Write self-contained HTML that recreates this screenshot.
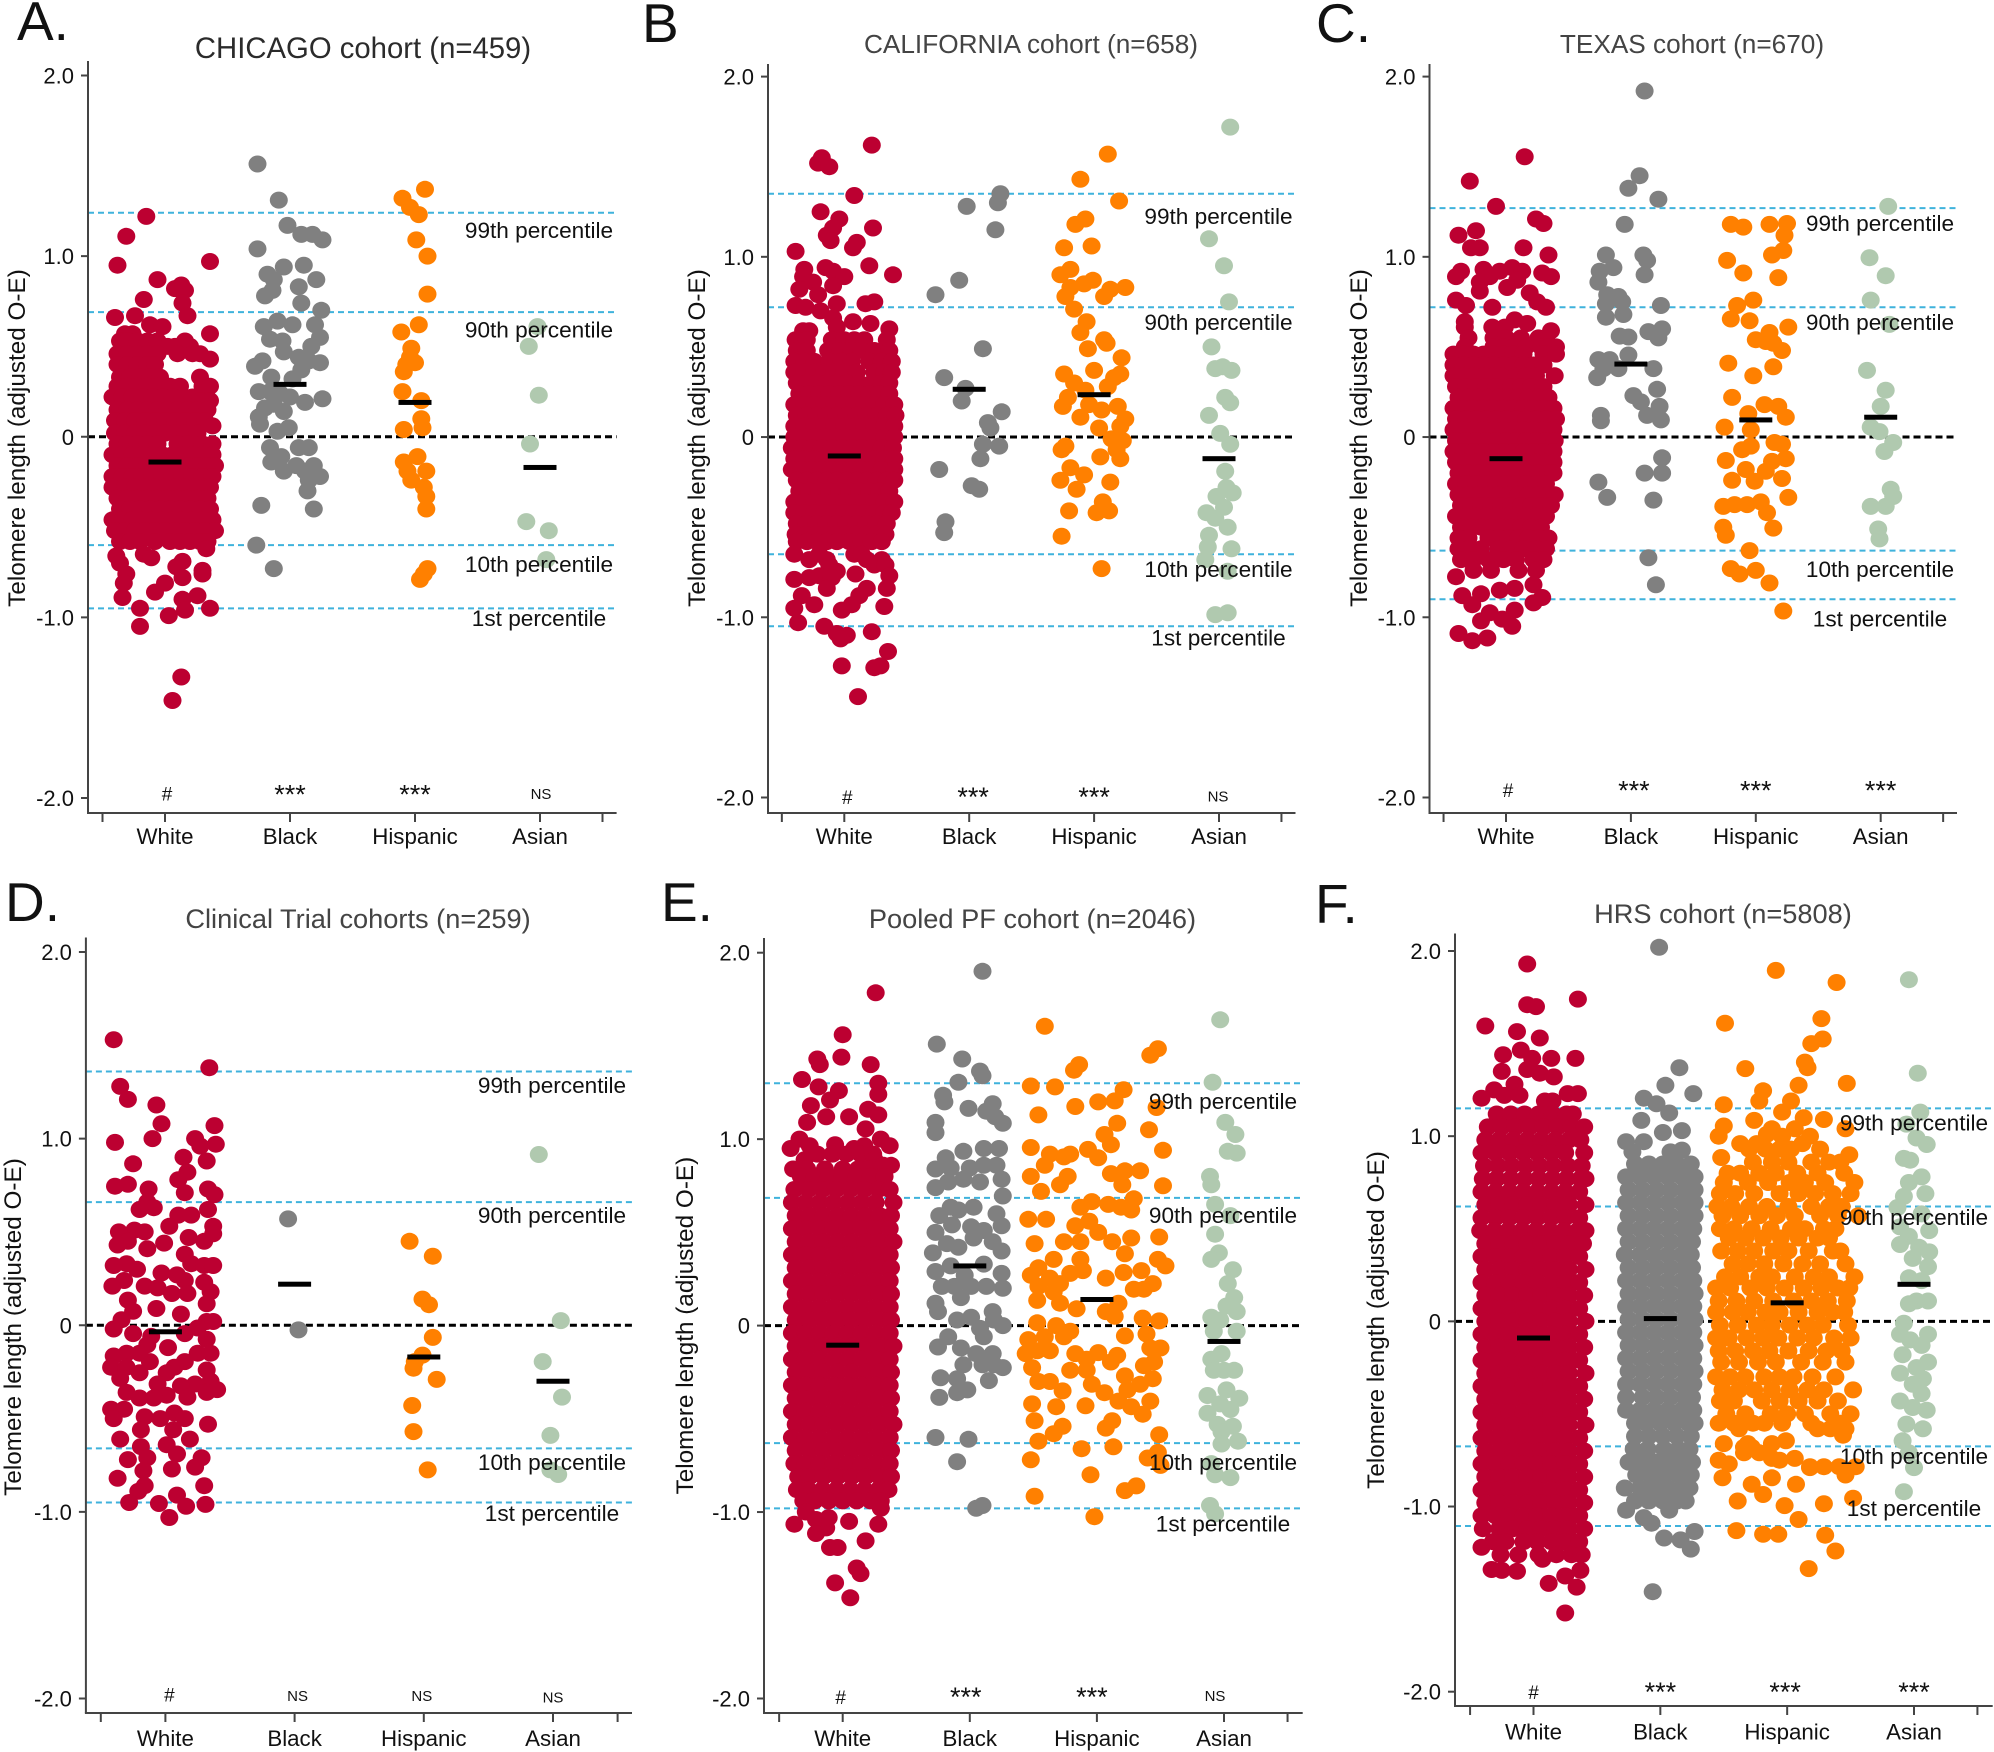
<!DOCTYPE html>
<html lang="en">
<head>
<meta charset="utf-8">
<title>Telomere length by race and cohort</title>
<style>
html,body{margin:0;padding:0;background:#fff}
svg{display:block;font-family:"Liberation Sans",Arial,sans-serif}
</style>
</head>
<body>
<svg id="figure" xmlns="http://www.w3.org/2000/svg" width="1994" height="1752" viewBox="0 0 1994 1752"></svg>
<script>
// Shared chart vocabulary
const categories = ['White','Black','Hispanic','Asian'];
const categoryColors = ['#bc0031','#808080','#ff8000','#b0c9af'];
const yTickValues = [2,1,0,-1,-2];
const yTickLabels = ['2.0','1.0','0','-1.0','-2.0'];
const xTickPositions = [-0.5,0,1,2,3,3.5];
const percentileNames = ['99th percentile','90th percentile','10th percentile','1st percentile'];

// Point rows: [value, jitter, jitter, ...]; jitter is a percentage of the category spacing.
const aWhite=[[1.22,-15],[1.11,-31],[.97,36],[.95,-38],[.87,-6],[.84,13],[.82,8],[.81,16],[.76,-17],[.74,14],[.67,18,-24],[.66,-40],[.62,-12],[.61,-2],[.57,36,-32,-26],[.53,-36,-30,-22,-14,-6,16],[.5,2,8,20],[.46,-38,-30,-22,-14,-6,10,22,28],[.43,36],[.4,-38,-30,-22,-14,-8],[.33,-36,-28,-20,-12,-4,28],[.28,-38,-30,-22,-14,-6,4,12,30,36],[.22,-42,-34,-26,-18,-10,-2,6,14,22],[.2,36,28],[.15,-38,-30,-22,-14,-6,2,10,18,26,34],[.09,-40,-32,-24,-16,-8,0,8,16,24,32],[.06,38],[.02,-40,-32,-24,-16,-8,0,8,16,26],[-.04,-38,-30,-22,-14,-6,10,18,30,38],[-.1,-42,-34,-26,-18,-10,-2,6,14,22,30,38],[-.16,-38,-30,-22,-14,-6,2,10,18,26,34,40],[-.22,-42,-34,-26,-18,-10,-2,6,14,22,30,38],[-.28,-42,-32,-24,-16,-8,0,8,16,24,32,36],[-.34,-38,-30,-22,-14,-6,2,10,18,26,34],[-.4,-36,-28,-20,-12,-4,4,12,20,28,36],[-.46,-42,-34,-26,-18,-10,-2,6,14,22,30,38],[-.52,-40,-32,-24,-16,-8,0,8,16,24,32,40],[-.58,-36,-28,-20,-8,4,12,20,28,34],[-.62,33],[-.65,-17],[-.66,-39],[-.67,-11],[-.69,14],[-.7,-36],[-.72,9],[-.74,30],[-.76,-31,30],[-.78,14],[-.81,-33,0],[-.86,-8],[-.88,26],[-.89,-34],[-.9,14],[-.95,-20,36],[-.96,16],[-.99,3],[-1.05,-20],[-1.33,13],[-1.46,6]];
const aBlack=[[1.51,-26],[1.31,-9],[1.17,-2],[1.12,9,18],[1.09,26],[1.04,-26],[.95,11],[.94,-5],[.9,-18],[.87,21,-13],[.83,7],[.81,-14],[.78,-20],[.74,9],[.7,25],[.64,-10],[.62,2,20],[.61,-21],[.55,24],[.54,-16],[.53,-6],[.5,17],[.47,-5],[.44,7],[.42,-22,15],[.41,24],[.39,-28],[.37,9],[.33,-15],[.32,2],[.25,-25,-16],[.24,-8],[.22,0],[.21,26],[.19,12],[.18,-13],[.16,-20],[.14,-5],[.11,-25],[.07,-24],[.05,-1],[.03,-10],[-.06,-16,7,15],[-.11,-7],[-.14,-15],[-.16,5,19],[-.19,-5,12],[-.22,24],[-.24,15],[-.3,14],[-.38,-23],[-.4,19],[-.6,-27],[-.73,-13]];
const aHispanic=[[1.37,8],[1.32,-10],[1.27,-4],[1.23,3],[1.09,1],[1,10],[.79,10],[.62,3],[.58,-11],[.49,-3],[.44,-4],[.41,0],[.4,-7],[.36,-9],[.25,-10],[.2,5],[.1,5],[.05,6],[.04,-9],[-.11,2],[-.14,-9],[-.19,-6,9],[-.24,-3],[-.28,7],[-.33,9],[-.4,9],[-.73,10],[-.76,7],[-.79,4]];
const aAsian=[[.61,-2],[.5,-9],[.23,-1],[-.04,-8],[-.47,-11],[-.52,7],[-.68,5]];

const bWhite=[[1.62,22],[1.55,-18],[1.52,-21],[1.5,-12],[1.34,8],[1.25,-19],[1.21,-4],[1.16,-9,23],[1.12,-14],[1.09,-11],[1.08,10],[1.05,7],[1.03,-39],[.95,20],[.94,-15],[.93,-32],[.92,-9],[.9,39],[.89,0,-33],[.86,-25],[.84,-9],[.82,-36],[.79,-21],[.75,24],[.74,-6,17],[.73,-39],[.72,-31],[.7,-19],[.66,-9],[.64,7],[.63,21],[.61,-6],[.6,36],[.59,-33,-28],[.54,-39,-30,-10,0,8,16,34],[.48,-38,-30,-13,-3,6,14,24,36],[.42,-40,-32,-24,-12,-2,6,20,30,38],[.36,-40,-32,-24,-16,-8,0,10,24,32,38],[.3,-38,-30,-22,-14,-6,2,12,22,30,36],[.24,-36,-28,-20,-12,-4,4,12,20,28,36],[.18,-40,-32,-24,-16,-8,0,8,16,24,32,40],[.12,-38,-30,-22,-14,-6,2,10,18,26,34,41],[.06,-40,-32,-24,-16,-8,0,8,16,24,32,40],[0,-40,-32,-24,-16,-8,0,8,16,24,32,40],[-.06,-42,-34,-26,-18,-10,-2,6,14,22,30,39],[-.12,-40,-32,-24,-16,-8,0,8,16,24,32,40],[-.18,-42,-34,-26,-18,-10,-2,6,14,22,30,40],[-.24,-38,-30,-22,-14,-6,2,10,18,26,34,40],[-.3,-36,-28,-20,-12,-4,4,12,20,28,36],[-.36,-40,-32,-24,-16,-8,0,8,16,24,32,40],[-.42,-40,-32,-24,-16,-8,0,8,16,24,32,38],[-.48,-38,-30,-22,-14,-6,2,10,18,26,34],[-.54,-39,-31,-23,-15,-7,1,9,17,25,33],[-.58,-38,-30,-22,-14,-6,4,14,22,30],[-.65,-40,-20,8,14],[-.68,-28,-14,18,30],[-.71,-12,24,33],[-.745,-6],[-.76,9],[-.77,36,-20],[-.78,-28,-10],[-.79,-40],[-.84,-14,18,34],[-.88,-34,12],[-.93,6,-24],[-.94,32],[-.95,-40],[-.96,-2],[-1.03,-37],[-1.05,-16],[-1.08,22],[-1.09,-6],[-1.1,2],[-1.12,-3],[-1.19,35],[-1.27,-2,29],[-1.28,24],[-1.44,11]];
const bBlack=[[1.35,25],[1.3,23],[1.28,-2],[1.15,21],[.87,-8],[.79,-27],[.49,11],[.33,-20],[.27,-3],[.2,-6],[.14,26],[.08,15],[.05,17],[-.04,11],[-.05,24],[-.12,9],[-.18,-24],[-.27,2],[-.29,8],[-.47,-19],[-.53,-20]];
const bHispanic=[[1.57,11],[1.43,-11],[1.31,20],[1.21,-7],[1.18,-15],[1.06,-2],[1.05,-24],[.93,-19],[.9,-27],[.87,-1],[.85,-8],[.83,-19,25],[.82,13],[.78,8,-23],[.71,-16],[.64,-6],[.58,-11],[.54,8],[.52,10],[.49,-5],[.44,22],[.37,0],[.35,-24,21],[.33,16],[.3,-16],[.28,11],[.26,-7],[.22,-21],[.18,-4],[.17,-25,19],[.15,6],[.11,-11],[.1,25],[.06,21],[.05,4],[-.01,14],[-.02,23],[-.05,-23],[-.07,-26,18],[-.11,5],[-.12,21],[-.17,-19],[-.21,-8],[-.24,-27],[-.25,13],[-.29,-14],[-.36,7],[-.41,-20,12],[-.42,2],[-.55,-26],[-.73,6]];
const bAsian=[[1.72,9],[1.1,-8],[.95,4],[.75,8],[.5,-6],[.39,3],[.38,-3],[.37,10],[.22,5],[.19,9],[.12,-8],[.02,1],[-.04,9],[-.19,5],[-.28,6],[-.31,11],[-.33,-2],[-.39,4],[-.42,-10],[-.45,-3],[-.5,7],[-.545,-8],[-.61,-9],[-.62,10],[-.68,-11],[-.745,7],[-.975,7],[-.985,-3]];

const cWhite=[[1.555,15],[1.42,-29],[1.28,-8],[1.21,24],[1.185,30],[1.145,-24],[1.12,-38],[1.05,-28,-21,14],[1.01,34],[.94,5],[.93,-18],[.92,-36,-5,13],[.91,29],[.89,-40,36,-13],[.87,9],[.86,-21],[.83,1],[.81,-21],[.8,19],[.76,-40],[.75,25],[.73,-32],[.72,32,-11],[.65,7],[.64,-33],[.63,17],[.61,-33,-11,-1],[.59,36],[.55,-30,-10,0,12,26,32],[.5,-33,-10,-2,6,16,28,34,40],[.46,-42,-34,-26,-18,-10,-2,6,14,30,40],[.4,-42,-34,-26,-18,-10,-2,6,14,22,30],[.34,-42,-34,-26,-18,-10,-4,8,16,24,39],[.28,-40,-32,-24,-16,-8,4,12,20,30],[.22,-38,-30,-22,-14,-6,2,10,18,26,34],[.16,-42,-34,-26,-18,-10,-2,6,14,22,30,38],[.1,-40,-32,-24,-16,-8,0,8,16,24,32,40],[.04,-42,-34,-26,-18,-10,-2,6,14,22,30,38],[-.02,-40,-32,-24,-16,-8,0,8,16,24,32,39],[-.08,-42,-34,-26,-18,-10,-2,6,14,22,30,38],[-.14,-40,-32,-24,-16,-8,0,8,16,24,32,38],[-.2,-38,-30,-22,-14,-6,2,10,18,26,34,38],[-.26,-40,-32,-24,-16,-8,0,8,16,24,32],[-.32,-38,-30,-22,-14,-6,2,10,18,26,34,39],[-.38,-36,-28,-20,-12,-4,4,12,20,28,36],[-.44,-40,-32,-24,-16,-8,0,8,16,24,32],[-.5,-36,-28,-20,-12,-4,4,12,20,28],[-.56,-38,-30,-14,-6,2,10,18,26,34],[-.62,-38,-30,-20,-6,4,14,24,32],[-.68,-36,-26,-14,-2,8,22,30],[-.74,-26,-12,10,24],[-.775,-40],[-.82,22],[-.84,7],[-.85,-5],[-.87,-20],[-.88,-35],[-.89,29],[-.92,22],[-.93,-27],[-.96,7],[-.975,-13],[-1.01,-3],[-1.02,-20],[-1.05,5],[-1.09,-38],[-1.115,-15],[-1.13,-27]];
const cBlack=[[1.92,11],[1.45,7],[1.38,-2],[1.32,22],[1.18,-5],[1.01,-20,10],[.98,13],[.94,-14],[.92,-25],[.9,11],[.86,-26],[.79,-19],[.78,-10],[.75,-7],[.74,-20],[.73,24],[.68,-6],[.665,-20],[.6,25],[.585,14],[.56,-9],[.555,-2],[.55,22],[.455,-2],[.43,-26,-17],[.38,18,-22,-10],[.33,-27],[.265,21],[.23,2],[.195,8],[.17,23],[.12,-24,13],[.095,24],[.09,-24],[-.115,25],[-.2,11,25],[-.25,-26],[-.335,-19],[-.35,18],[-.67,14],[-.82,20]];
const cHispanic=[[1.185,25],[1.18,-20,11],[1.165,-10],[1.12,23],[1.035,22],[1.01,13],[.98,-23],[.91,-10],[.885,18],[.76,-2],[.73,-15],[.655,-20],[.645,-5],[.61,26],[.58,11],[.54,0],[.53,8],[.52,14],[.48,21],[.41,-22],[.39,14],[.34,-2],[.22,-19],[.18,7],[.17,18],[.13,-6],[.11,24],[.055,-25],[.04,-4],[-.03,15],[-.04,21],[-.05,-4],[-.07,-11],[-.12,24],[-.13,-24],[-.135,13],[-.18,-8],[-.19,8],[-.23,21],[-.24,-19],[-.245,-1],[-.335,26],[-.36,4],[-.375,-17,-7],[-.385,-26],[-.42,9],[-.5,-26],[-.505,14],[-.545,-24],[-.63,-5],[-.73,-20],[-.74,0],[-.76,-13],[-.81,11],[-.965,22]];
const cAsian=[[1.28,6],[.995,-9],[.895,4],[.76,-8],[.625,7],[.37,-11],[.26,4],[.17,0],[.055,-8],[.03,-1],[-.03,10],[-.08,3],[-.29,8],[-.33,10],[-.385,-8,4],[-.51,-2],[-.565,-1]];

const dWhite=[[1.53,-40],[1.38,34],[1.28,-35],[1.21,-29],[1.18,-7],[1.08,-3],[1.07,38],[1,-10,23],[.98,-39],[.97,39],[.96,27],[.9,14],[.88,32],[.865,-25],[.82,17],[.78,10],[.755,-29],[.745,-39],[.73,-13,33],[.71,15],[.7,38],[.66,-14],[.63,-9],[.62,-20,33],[.59,10,20],[.53,3,37],[.51,-24],[.5,-36,-16],[.49,37],[.47,18],[.45,-29,30],[.44,-1],[.43,-37],[.41,-14],[.38,15],[.33,-30,20],[.32,-40,30,37],[.3,-22],[.28,-3],[.27,9],[.24,-32,15],[.23,30],[.21,-41,-16],[.2,-6],[.18,35],[.17,5,17],[.135,-29],[.115,32],[.09,-7],[.075,-25],[.06,12],[.03,-34],[.02,32,37],[-.015,25],[-.02,-40],[-.045,-25,15],[-.06,-11],[-.075,32],[-.105,-14],[-.12,2],[-.15,-30,-20,25,35],[-.165,-40],[-.195,-12,15],[-.225,-42,-30,7],[-.24,32],[-.255,-20,1],[-.285,-35],[-.3,35],[-.315,-6,23],[-.325,12],[-.345,40],[-.36,-30,32],[-.375,1],[-.385,17],[-.39,-20,-9],[-.45,-42,-32],[-.47,7],[-.49,-16],[-.5,-40,-4,15],[-.53,33],[-.56,-19,6],[-.61,-35,19],[-.64,1],[-.65,-19],[-.69,9],[-.71,-14,28],[-.72,-29],[-.76,23],[-.77,5],[-.78,-17],[-.82,-37],[-.86,-16,30],[-.89,-21],[-.91,9],[-.95,-28],[-.955,-5],[-.96,31],[-.97,16],[-1.03,3]];
const dBlack=[[.57,-5],[-.025,3]];
const dHispanic=[[.45,-11],[.37,7],[.14,-1],[.11,4],[-.065,7],[-.16,-1],[-.195,-7],[-.23,-8],[-.29,10],[-.43,-9],[-.57,-8],[-.775,3]];
const dAsian=[[.915,-11],[.025,6],[-.195,-8],[-.385,7],[-.59,-2],[-.775,-2],[-.8,4]];

const eWhite=[[1.785,26],[1.56,0],[1.44,-1],[1.43,-20],[1.4,-18,22],[1.32,-32],[1.3,28],[1.28,-19],[1.26,-3],[1.24,28],[1.21,-10],[1.18,-25],[1.16,20],[1.13,28],[1.12,5,-13],[1.09,-28],[1.055,18],[1,-34,30],[.965,37,-26,17],[.97,-6],[.95,-41,9],[.92,-20,-8,3,14,24],[.89,25,-30],[.86,38,32],[.84,-39,-28,-14,0,12,20],[.8,-33,-22,-11,0,11,22,33],[.73,-38,-27,-16,-5,6,17,28,37],[.66,-40,-29,-18,-7,4,15,26,40],[.59,-37,-26,-15,-4,7,18,29,38],[.52,-40,-29,-18,-7,4,15,26,37],[.45,-37,-26,-15,-4,7,18,29,40],[.38,-40,-29,-18,-7,4,15,26,37],[.31,-37,-26,-15,-4,7,18,29,38],[.24,-40,-29,-18,-7,4,15,26,37],[.17,-37,-26,-15,-4,7,18,29,38],[.1,-40,-29,-18,-7,4,15,26,37],[.03,-37,-26,-15,-4,7,18,29,38],[-.04,-40,-29,-18,-7,4,15,26,37],[-.11,-37,-26,-15,-4,7,18,29,40],[-.18,-40,-29,-18,-7,4,15,26,37],[-.25,-37,-26,-15,-4,7,18,29,38],[-.32,-40,-29,-18,-7,4,15,26,37],[-.39,-37,-26,-15,-4,7,18,29,38],[-.46,-40,-29,-18,-7,4,15,26,37],[-.53,-37,-26,-15,-4,7,18,29,40],[-.6,-40,-29,-18,-7,4,15,26,37],[-.67,-37,-26,-15,-4,7,18,29,38],[-.74,-38,-29,-18,-7,4,15,26,37],[-.81,-35,-26,-15,-4,7,18,29,38],[-.88,-36,-27,-16,-5,6,17,28,36],[-.94,-31,-22,-11,0,11,22,30],[-.98,30],[-1,-29],[-1.03,-11],[-1.04,-21],[-1.05,5],[-1.065,-38,28],[-1.085,-13],[-1.115,-21],[-1.155,18],[-1.19,-10,-4],[-1.3,11],[-1.33,14],[-1.38,-6],[-1.46,6]];
const eBlack=[[1.9,10],[1.51,-26],[1.43,-6],[1.365,8],[1.34,10],[1.305,-9],[1.235,-21],[1.2,-20],[1.19,18],[1.165,-1],[1.15,13],[1.12,20],[1.09,-27],[1.085,26],[1.035,-27],[.95,11,23],[.935,-5],[.9,-19],[.86,11,21],[.845,-15,0],[.84,-27],[.785,-5,25],[.77,-17,8],[.74,-27],[.695,26],[.635,-15,3],[.62,-9],[.6,21],[.59,-24],[.54,-14],[.535,25],[.53,1],[.51,11],[.5,-27],[.47,3],[.45,18],[.44,-18],[.42,-9],[.4,25],[.39,-29],[.33,11],[.32,-15],[.29,-27],[.28,25],[.27,-4],[.21,-22,-12,1,13],[.2,26],[.15,-7],[.12,-27],[.075,-25,18],[.045,1],[.03,-10,19],[0,26],[-.015,8],[-.06,-17,11],[-.115,-25],[-.12,-7],[-.15,18,5],[-.21,-5,10,19],[-.225,26],[-.28,-23],[-.285,-10],[-.295,15],[-.345,-2],[-.36,-10],[-.385,-24],[-.6,-27],[-.61,-1],[-.73,-10],[-.965,10],[-.98,5]];
const eHispanic=[[1.605,-41],[1.485,48],[1.45,42],[1.4,-14],[1.37,-18],[1.285,-52],[1.28,-33],[1.265,21],[1.205,14],[1.2,1],[1.175,-17],[1.17,47],[1.13,-46],[1.085,16],[1.05,41],[1.025,6],[.97,11],[.955,-52],[.945,-7],[.94,52],[.92,-37,-21],[.905,-26],[.9,1],[.86,-41],[.83,22,34],[.815,11],[.8,-52,-23],[.755,-29,20],[.75,52],[.72,-44],[.68,29],[.665,-4],[.65,9],[.635,-13,19],[.62,27],[.57,-54,-40],[.56,-6],[.535,-17],[.5,1],[.475,49],[.47,27],[.45,-26,-13,12],[.44,-49],[.385,22],[.355,-34,-13,48],[.32,54],[.31,-46],[.295,-11,35],[.285,21],[.28,-21],[.27,-52],[.255,-37,7],[.225,-29,44],[.21,-46],[.195,29,37],[.18,-34],[.135,-47],[.12,-29,17],[.09,-16],[.075,7],[.05,14],[.04,36],[.025,49],[.015,-47],[0,-32],[-.03,-21],[-.045,39],[-.055,22],[-.06,-41,-26],[-.075,-54],[-.12,42,50],[-.135,-47,-37],[-.145,1],[-.15,-56,-17],[-.16,16],[-.18,-8],[-.195,11,45],[-.215,37],[-.225,-51],[-.24,-21,-8],[-.27,22],[-.285,44],[-.3,-46,-37],[-.315,-4,34],[-.345,24],[-.35,-27],[-.36,6],[-.405,42,17],[-.42,-51],[-.43,-9],[-.435,-32,27],[-.475,36],[-.51,-49,12],[-.54,-27],[-.55,7],[-.58,-34],[-.585,49],[-.62,-46],[-.65,13],[-.66,-12],[-.68,48],[-.71,40],[-.72,-52],[-.75,50],[-.8,-5],[-.86,31],[-.885,22],[-.915,-49],[-1.025,-2]];
const eAsian=[[1.64,-3],[1.305,-9],[1.09,1],[1.025,9],[.935,3],[.925,10],[.8,-11],[.755,-10],[.65,-7],[.59,5],[.49,-7],[.39,-4],[.355,-10],[.3,7],[.225,3],[.15,8],[.105,2],[.075,10],[.045,-10],[.03,-3],[-.03,-8,10],[-.15,-2],[-.18,-10],[-.24,8,0,-8],[-.345,2],[-.375,-13],[-.39,12],[-.42,-3],[-.45,5],[-.47,-13],[-.53,-5],[-.54,7],[-.57,-2],[-.62,11],[-.635,-2],[-.74,-10],[-.8,-7],[-.815,5],[-.965,-11],[-1.01,-7]];

const fWhite=[[1.93,-5],[1.74,35],[1.71,-5],[1.7,2],[1.595,-38],[1.565,-13],[1.53,5],[1.465,-10],[1.44,-24],[1.42,33,14,-1],[1.36,-5],[1.35,-25],[1.34,5],[1.32,16],[1.28,-15],[1.25,-31],[1.23,27,35],[1.22,-23,-11],[1.205,-41],[1.19,9,15],[1.12,-29,-18,-7,4,15,26,31],[1.05,-36,-25,-14,-3,8,19,30,40],[.98,-38,-27,-16,-5,6,17,28,37],[.91,-41,-30,-19,-8,3,14,25,40],[.84,-39,-28,-17,-6,5,16,27,38],[.77,-40,-29,-18,-7,4,15,26,37,41],[.7,-41,-30,-19,-8,3,14,25,36],[.63,-38,-27,-16,-5,6,17,28,41],[.56,-41,-30,-19,-8,3,14,25,36],[.49,-42,-31,-20,-9,2,13,24,35,41],[.42,-38,-27,-16,-5,6,17,28,39],[.35,-41,-30,-19,-8,3,14,25,36],[.28,-38,-27,-16,-5,6,17,28,41],[.21,-41,-30,-19,-8,3,14,25,36],[.14,-38,-27,-16,-5,6,17,28,40],[.07,-41,-30,-19,-8,3,14,25,36],[0,-38,-27,-16,-5,6,17,28,41],[-.07,-41,-30,-19,-8,3,14,25,36],[-.14,-38,-27,-16,-5,6,17,28,40],[-.21,-41,-30,-19,-8,3,14,25,36],[-.28,-38,-27,-16,-5,6,17,28,41],[-.35,-41,-30,-19,-8,3,14,25,36],[-.42,-38,-27,-16,-5,6,17,28,40],[-.49,-41,-30,-19,-8,3,14,25,36],[-.56,-38,-27,-16,-5,6,17,28,41],[-.63,-41,-30,-19,-8,3,14,25,36],[-.7,-38,-27,-16,-5,6,17,28,40],[-.77,-41,-30,-19,-8,3,14,25,36],[-.84,-38,-27,-16,-5,6,17,28,40],[-.91,-41,-30,-19,-8,3,14,25,36],[-.98,-38,-27,-16,-5,6,17,28,40],[-1.05,-41,-30,-19,-8,3,14,25,36],[-1.12,-40,-27,-16,-5,6,17,28,40],[-1.19,-32,-22,-8,3,14,25,36],[-1.22,-41],[-1.26,-26,-12,4,18,30,38],[-1.285,7],[-1.34,-33],[-1.345,-25,37],[-1.35,-13],[-1.375,25],[-1.415,12],[-1.435,34],[-1.575,25]];
const fBlack=[[2.02,-1],[1.37,15],[1.275,4],[1.23,26],[1.205,-13],[1.175,-3],[1.125,7],[1.085,-15],[1.03,17],[1.02,2],[.97,-27,-13],[.925,17],[.915,8,-22],[.85,-20,-9,2,13,24],[.78,-27,-16,-5,6,17,27],[.71,-25,-14,-3,8,19,27],[.64,-27,-16,-5,6,17,27],[.57,-25,-14,-3,8,19,27],[.5,-27,-16,-5,6,17,26],[.43,-25,-14,-3,8,19,25],[.36,-28,-16,-5,6,17,24],[.29,-25,-14,-3,8,19,25],[.22,-27,-16,-5,6,17,26],[.15,-25,-14,-3,8,19,27],[.08,-27,-16,-5,6,17,26],[.01,-25,-14,-3,8,19,27],[-.06,-27,-16,-5,6,17,26],[-.13,-25,-14,-3,8,19,27],[-.2,-27,-16,-5,6,17,26],[-.27,-25,-14,-3,8,19,27],[-.34,-27,-16,-5,6,17,26],[-.41,-27,-14,-3,8,19,25],[-.48,-27,-16,-5,6,17,26],[-.55,-20,-11,0,11,22,27],[-.62,-20,-9,2,13,24],[-.69,-21,-10,3,14,23],[-.76,-25,-14,-3,8,19,25],[-.83,-19,-8,3,14,24],[-.9,-28,-16,-5,6,17,23],[-.97,-20,-9,2,13,20],[-1.02,-27,7],[-1.06,-13],[-1.09,-7],[-1.135,27],[-1.17,3],[-1.18,16],[-1.23,24],[-1.46,-6]];
const fHispanic=[[1.895,-9],[1.83,39],[1.635,27],[1.61,-49],[1.525,28],[1.5,19],[1.4,14],[1.37,16],[1.365,-33],[1.285,47],[1.275,9],[1.245,-19],[1.19,-22,3],[1.17,-50],[1.13,-4],[1.1,13],[1.09,29],[1.085,-26],[1.055,-50],[1.04,46,-12,6],[1.01,-16],[1,-54,-4,18],[.96,-37,-24,12],[.93,-30,-17,-6,3,26],[.9,49],[.885,-52],[.86,-27,-12,1,19,33,42],[.8,-47,-37,-22,-9,8,24,45],[.75,-50,-31,-15,2,14,30,53],[.69,-53,-41,-26,-6,9,22,36,50],[.62,-55,-44,-30,-16,1,19,33,43],[.57,-51,-37,-22,-8,6,26,40,56],[.5,-53,-42,-28,-13,3,14,29,38],[.45,-46,-33,-19,-5,9,24,33],[.38,-52,-39,-26,-11,1,17,36,42],[.31,-43,-31,-18,-3,12,26,46],[.24,-49,-37,-22,-12,6,21,33,53],[.18,-56,-45,-29,-16,-2,13,27,40,49],[.11,-54,-40,-26,-11,5,19,32,47],[.05,-56,-43,-31,-17,-6,9,24,36,45],[-.02,-53,-39,-24,-12,2,16,28,48],[-.09,-56,-46,-32,-19,-7,8,21,37,50],[-.16,-54,-41,-27,-14,1,17,31,43],[-.22,-52,-38,-23,-9,11,28,46],[-.3,-56,-45,-33,-18,-6,5,20,38],[-.37,-51,-38,-26,-12,2,16,29,52],[-.43,-53,-42,-20,-6,9,24,40],[-.5,-48,-33,-13,0,14,34,50],[-.55,-54,-42,-27,-18,-4,19,42],[-.58,-38,24,34,46],[-.615,44],[-.645,-1],[-.66,-50,-31,-12],[-.68,-28,-34],[-.71,-34,-22],[-.74,6,-12],[-.75,-54,-6],[-.77,-46],[-.785,29,41,54,18],[-.79,18],[-.83,46],[-.845,-51,-12],[-.88,-28,7],[-.935,-19],[-.955,52],[-.97,-39],[-.985,29],[-.995,-2],[-1.07,9],[-1.13,-40],[-1.15,-19,-7],[-1.155,30],[-1.24,38],[-1.335,17]];
const fAsian=[[1.845,-4],[1.34,3],[1.13,5],[1.065,-6],[.99,2],[.955,10],[.88,-8],[.87,-3],[.78,6],[.75,-4],[.69,9],[.675,-8],[.615,-13],[.58,6],[.51,-11],[.49,12],[.46,-4],[.415,-11],[.4,4],[.375,12],[.34,-1],[.295,11],[.235,-4],[.22,6],[.11,2,11],[.095,-4],[-.01,-8],[-.07,-11,11],[-.1,-3],[-.13,6],[-.18,-9],[-.22,11],[-.25,2],[-.28,-11],[-.31,7],[-.34,-1],[-.39,6],[-.43,-11],[-.465,-1],[-.48,10],[-.555,-6],[-.58,7],[-.645,-9],[-.71,-4],[-.79,0],[-.92,-8]];

const groupMeans={a:[-.14,.29,.19,-.17],b:[-.105,.265,.235,-.12],c:[-.12,.405,.095,.11],d:[-.035,.22,-.17,-.3],e:[-.105,.32,.14,-.085],f:[-.09,.015,.1,.2]};
const percentileValues={a:[1.24,.69,-.6,-.95],b:[1.35,.72,-.65,-1.05],c:[1.27,.72,-.63,-.9],d:[1.36,.66,-.66,-.95],e:[1.3,.685,-.63,-.98],f:[1.15,.62,-.675,-1.105]};
const significance={a:['#','***','***','NS'],b:['#','***','***','NS'],c:['#','***','***','***'],d:['#','NS','NS','NS'],e:['#','***','***','NS'],f:['#','***','***','***']};
const pointSeries={a:[aWhite,aBlack,aHispanic,aAsian],b:[bWhite,bBlack,bHispanic,bAsian],c:[cWhite,cBlack,cHispanic,cAsian],d:[dWhite,dBlack,dHispanic,dAsian],e:[eWhite,eBlack,eHispanic,eAsian],f:[fWhite,fBlack,fHispanic,fAsian]};

// Page layout of each panel (pixels)
const panels=[
{id:'a',letter:'A.',lx:17,ly:40,title:'CHICAGO cohort (n=459)',ts:29.3,tx:363,ty:58,tc:'#2b2b2b',ax:88,top:61,right:616.6,base:813,catDy:31,yHi:75.5,yLo:798,c0:165,c3:540,yt:25,ytc:438,lab:539,labY:[238,337.5,572,626],sigDx:[2,0,0,1],sigY:[793.5,790.8,790.8,793.5]},
{id:'b',letter:'B',lx:642,ly:42,title:'CALIFORNIA cohort (n=658)',ts:26.2,tx:1031,ty:53,tc:'#444',ax:768,top:64,right:1295.5,base:813,catDy:31,yHi:76.6,yLo:797.5,c0:844.3,c3:1219,yt:705,ytc:438,lab:1218.5,labY:[224,330,577,645.5],sigDx:[3,4,0,-1],sigY:[797,793.5,793.5,795.8]},
{id:'c',letter:'C.',lx:1316,ly:42,title:'TEXAS cohort (n=670)',ts:26.2,tx:1692,ty:53,tc:'#444',ax:1429.5,top:64,right:1957,base:813,catDy:31,yHi:76.6,yLo:797.5,c0:1506,c3:1880.7,yt:1367,ytc:438,lab:1880,labY:[231,330,577,626.6],sigDx:[2,3,0,0],sigY:[790,787,787,787]},
{id:'d',letter:'D.',lx:5,ly:921,title:'Clinical Trial cohorts (n=259)',ts:27.2,tx:358,ty:928,tc:'#444',ax:85.9,top:937.5,right:632,base:1713,catDy:33,yHi:952,yLo:1698.5,c0:165.4,c3:553,yt:21,ytc:1327,lab:552,labY:[1093,1223,1470,1521],sigDx:[4,3,-2,0],sigY:[1694.5,1695.6,1695.6,1696.8]},
{id:'e',letter:'E.',lx:661,ly:921,title:'Pooled PF cohort (n=2046)',ts:27.2,tx:1032.5,ty:928,tc:'#444',ax:764,top:938,right:1302.7,base:1713,catDy:33,yHi:952.7,yLo:1698.5,c0:842.7,c3:1224,yt:693,ytc:1325.6,lab:1223,labY:[1109,1223,1470,1531.5],sigDx:[-2,-4,-5,-9],sigY:[1696.8,1693.4,1693.4,1695.6]},
{id:'f',letter:'F.',lx:1315,ly:923,title:'HRS cohort (n=5808)',ts:27.2,tx:1723,ty:923,tc:'#444',ax:1455,top:933.5,right:1992.7,base:1706,catDy:33.5,yHi:951,yLo:1691.7,c0:1533.5,c3:1914,yt:1384,ytc:1320,lab:1914,labY:[1130.5,1225,1464,1516],sigDx:[0,0,-2,0],sigY:[1692,1688.3,1688.3,1688.3]}
];
const sigFontSize={'#':19,'***':27,'NS':15};
const sigBaselineShift={'#':7,'***':12.5,'NS':5.5};

const svg=document.getElementById('figure');
const NS='http://www.w3.org/2000/svg';
function make(tag,attrs,parent){
  const el=document.createElementNS(NS,tag);
  for(const k in attrs){el.setAttribute(k,attrs[k]);}
  parent.appendChild(el);
  return el;
}
function xAxisScale(p){const step=(p.c3-p.c0)/3;return function(c){return p.c0+c*step;};}
function yAxisScale(p){const unit=(p.yLo-p.yHi)/4;const zero=p.yHi+2*unit;return function(v){return zero-v*unit;};}

panels.forEach(function(p){
  const x=xAxisScale(p);
  const y=yAxisScale(p);
  const g=make('g',{},svg);
  
  

  const letter=make('text',{x:p.lx,y:p.ly,'font-size':55,fill:'#111'},g);
  letter.textContent=p.letter;
  
  

  const title=make('text',{x:p.tx,y:p.ty,'font-size':p.ts,fill:p.tc,'text-anchor':'middle'},g);
  title.textContent=p.title;
  
  

  const yTitle=make('text',{x:0,y:0,'font-size':24.3,fill:'#111','text-anchor':'middle',transform:'translate('+p.yt+','+p.ytc+') rotate(-90)'},g);
  yTitle.textContent='Telomere length (adjusted O-E)';
  
  

  percentileValues[p.id].forEach(function(v,i){
    const line=make('line',{x1:p.ax,x2:p.right,y1:y(v),y2:y(v),stroke:'#3fb2dc','stroke-width':2,'stroke-dasharray':'6 4'},g);
    
    
  });

  const zero=make('line',{x1:p.ax,x2:p.right,y1:y(0),y2:y(0),stroke:'#000','stroke-width':3,'stroke-dasharray':'7 4'},g);
  
  

  pointSeries[p.id].forEach(function(rows,c){
    const series=make('g',{fill:categoryColors[c]},g);
    
    
    rows.forEach(function(row){
      for(let k=1;k<row.length;k++){
        const dot=make('ellipse',{cx:x(c+row[k]/100).toFixed(1),cy:y(row[0]).toFixed(1),rx:9,ry:8.5},series);
        
        
      }
    });
  });

  groupMeans[p.id].forEach(function(v,c){
    const bar=make('rect',{x:x(c)-16.5,y:y(v)-2.5,width:33,height:5,fill:'#000'},g);
    
    
  });

  const yAxis=make('line',{x1:p.ax,x2:p.ax,y1:p.top,y2:p.base,stroke:'#444','stroke-width':2},g);
  
  
  const xAxis=make('line',{x1:p.ax-1,x2:p.right,y1:p.base,y2:p.base,stroke:'#444','stroke-width':2},g);
  
  

  yTickValues.forEach(function(v,i){
    const tick=make('line',{x1:p.ax-7,x2:p.ax,y1:y(v),y2:y(v),stroke:'#444','stroke-width':2},g);
    
    
    const label=make('text',{x:p.ax-14,y:y(v)+8,'font-size':22,fill:'#111','text-anchor':'end'},g);
    label.textContent=yTickLabels[i];
    
    
  });

  xTickPositions.forEach(function(c){
    const tick=make('line',{x1:x(c),x2:x(c),y1:p.base,y2:p.base+9,stroke:'#444','stroke-width':2},g);
    
    
  });

  categories.forEach(function(name,c){
    const label=make('text',{x:x(c),y:p.base+p.catDy,'font-size':22.3,fill:'#111','text-anchor':'middle'},g);
    label.textContent=name;
    
    
  });

  significance[p.id].forEach(function(s,c){
    const mark=make('text',{x:x(c)+p.sigDx[c],y:p.sigY[c]+sigBaselineShift[s],'font-size':sigFontSize[s],fill:'#111','text-anchor':'middle'},g);
    mark.textContent=s;
    
    
  });

  percentileNames.forEach(function(name,i){
    const label=make('text',{x:p.lab,y:p.labY[i],'font-size':22.6,fill:'#111','text-anchor':'middle'},g);
    label.textContent=name;
    
    
  });
});
</script>
</body>
</html>
